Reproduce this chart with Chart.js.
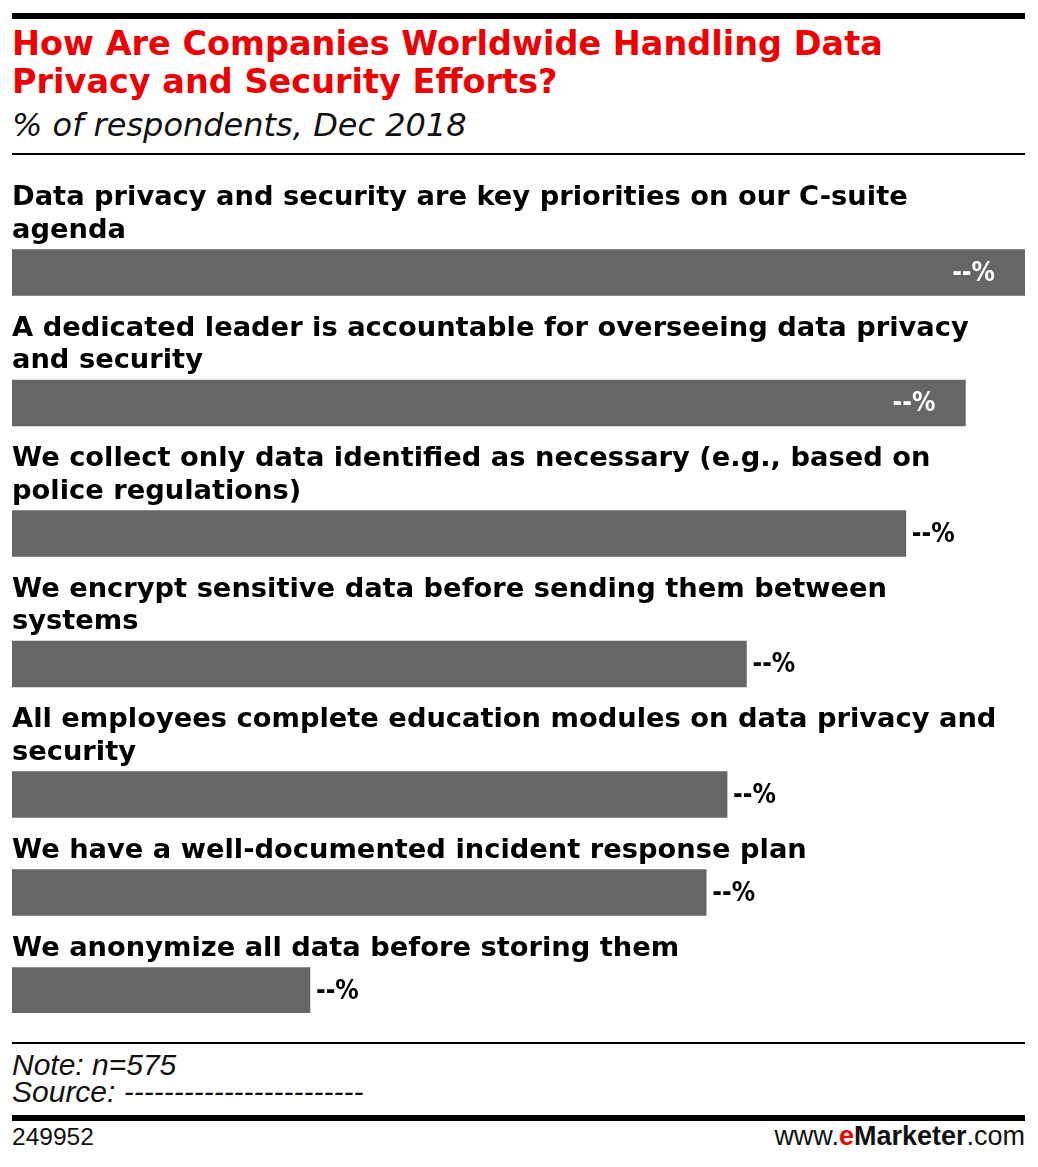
<!DOCTYPE html>
<html>
<head>
<meta charset="utf-8">
<script src="https://cdn.jsdelivr.net/npm/chart.js@4.4.1/dist/chart.umd.min.js"></script>
<style>
  body { margin: 0; background: #fff; }
  #page { position: relative; width: 1038px; height: 1167px; overflow: hidden; }
  .rule { position: absolute; left: 12px; width: 1013px; background: #000; }
  .txt { position: absolute; left: 12px; white-space: nowrap; }
  #title { top: 25px; color: #ee0000; font: bold 33.5px "DejaVu Sans", sans-serif; line-height: 38px; }
  #subtitle { top: 107px; color: #111; font: oblique 32px "DejaVu Sans", sans-serif; line-height: 36px; }
  #note { top: 1051px; font: italic 30px "Liberation Sans", sans-serif; line-height: 27px; color: #111; }
  #chartId { top: 1123px; font: 24.5px "Liberation Sans", sans-serif; color: #111; }
  #brand { position: absolute; right: 13px; top: 1121px; font: 27px "Liberation Sans", sans-serif; color: #111; }
  #brand b { font-weight: bold; }
  #brand .e { color: #ee0000; }
  #chartBox { position: absolute; left: 0; top: 164.5px; width: 1038px; }
</style>
</head>
<body>
<div id="page">
  <div class="rule" style="top:13px;height:6px"></div>
  <div id="title" class="txt">How Are Companies Worldwide Handling Data<br>Privacy and Security Efforts?</div>
  <div id="subtitle" class="txt">% of respondents, Dec 2018</div>
  <div class="rule" style="top:153px;height:2px"></div>

  <div id="chartBox"><canvas id="myChart"></canvas></div>

  <div class="rule" style="top:1042px;height:2px"></div>
  <div id="note" class="txt">Note: n=575<br>Source: ------------------------</div>
  <div class="rule" style="top:1115px;height:6px"></div>
  <div id="chartId" class="txt">249952</div>
  <div id="brand">www.<b><span class="e">e</span>Marketer</b>.com</div>
</div>

<script>
const categories = [
  ["Data privacy and security are key priorities on our C-suite", "agenda"],
  ["A dedicated leader is accountable for overseeing data privacy", "and security"],
  ["We collect only data identified as necessary (e.g., based on", "police regulations)"],
  ["We encrypt sensitive data before sending them between", "systems"],
  ["All employees complete education modules on data privacy and", "security"],
  ["We have a well-documented incident response plan"],
  ["We anonymize all data before storing them"]
];
const values = [68, 64, 60, 49.3, 48, 46.6, 20];
const valueLabels = ["--%", "--%", "--%", "--%", "--%", "--%", "--%"];

const theme = {
  bar: "#666666",
  label: "#000000",
  labelFont: "bold 27.3px 'DejaVu Sans', sans-serif",
  valueFont: "bold 26px 'DejaVu Sans Condensed', 'DejaVu Sans', sans-serif",
};

// vertical layout: label lines stacked above each bar
const BAR_H = 46;
const LINE_H = 32.5;
const FIRST_BASE = 40;  // prev bar bottom -> first label baseline
const LAST_GAP = 12;    // last label baseline -> bar top

const barCenters = [];
let cursor = 0;
categories.forEach(lines => {
  cursor += FIRST_BASE + LINE_H * (lines.length - 1) + LAST_GAP;
  barCenters.push(cursor + BAR_H / 2);
  cursor += BAR_H;
});
const totalHeight = cursor;

const labelPlugin = {
  id: "barLabels",
  afterDatasetsDraw(chart) {
    const { ctx, chartArea } = chart;
    const meta = chart.getDatasetMeta(0);
    ctx.save();
    meta.data.forEach((bar, i) => {
      const top = bar.y - BAR_H / 2;
      const lines = categories[i];
      ctx.font = theme.labelFont;
      ctx.fillStyle = theme.label;
      ctx.textAlign = "left";
      ctx.textBaseline = "alphabetic";
      lines.forEach((ln, k) => {
        const base = top - LAST_GAP - LINE_H * (lines.length - 1 - k);
        ctx.fillText(ln, chartArea.left, base);
      });

      ctx.font = theme.valueFont;
      ctx.textBaseline = "middle";
      if (bar.x + 70 > chartArea.right) {
        ctx.fillStyle = "#ffffff";
        ctx.textAlign = "right";
        ctx.fillText(valueLabels[i], bar.x - 30, bar.y + 1.5);
      } else {
        ctx.fillStyle = "#000000";
        ctx.textAlign = "left";
        ctx.fillText(valueLabels[i], bar.x + 6, bar.y + 1.5);
      }
    });
    ctx.restore();
  }
};

function renderChart() {
  const box = document.getElementById("chartBox");
  box.style.height = totalHeight + "px";
  const ctx = document.getElementById("myChart");

  new Chart(ctx, {
    type: "bar",
    data: {
      labels: categories,
      datasets: [{
        data: values.map((v, i) => ({ x: v, y: barCenters[i] })),
        backgroundColor: theme.bar,
        borderWidth: 0,
        barThickness: BAR_H,
      }],
    },
    options: {
      indexAxis: "y",
      responsive: true,
      maintainAspectRatio: false,
      animation: false,
      layout: { padding: { left: 12, right: 13, top: 0, bottom: 0 } },
      plugins: {
        legend: { display: false },
        tooltip: { enabled: false },
      },
      scales: {
        x: { display: false, min: 0, max: Math.max(...values) },
        y: { type: "linear", display: false, offset: false, min: 0, max: totalHeight, reverse: true },
      },
    },
    plugins: [labelPlugin],
  });
}

renderChart();
</script>
</body>
</html>
